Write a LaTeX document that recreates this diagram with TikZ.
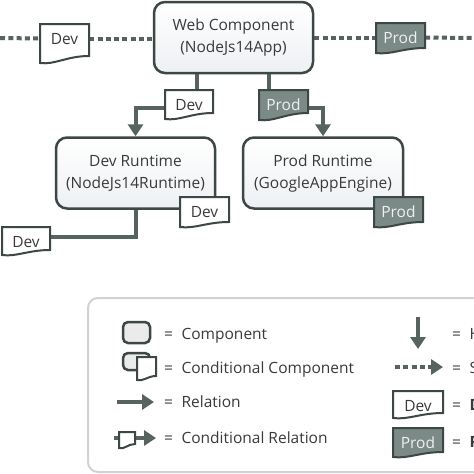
\documentclass[tikz,border=0pt]{standalone}
\usepackage{fontspec}
\setmainfont{Open Sans}
\usetikzlibrary{arrows.meta}
\definecolor{lg}{HTML}{57635F}
\definecolor{bd}{HTML}{3D4745}
\definecolor{pf}{HTML}{7B8A86}
\definecolor{txt}{HTML}{3A3A3A}
\definecolor{bbot}{HTML}{EDF0F3}
\definecolor{lbd}{HTML}{D2D2D2}
\definecolor{pt}{HTML}{EEF1F0}
\definecolor{icf}{HTML}{EBEBEB}
\pgfdeclarelayer{bgw}
\pgfdeclarelayer{lines}
\pgfsetlayers{bgw,lines,main}
\newcommand{\envtag}[8]{%
  \path[#7tag] (#2,#3) -- (#4,#3) -- (#4,#5) .. controls +({-0.45*(#4-#2)},0) and +({0.3*(#4-#2)},2) .. (#2,#6) -- cycle;
  \node[#7txt, minimum width={(#4-#2)*1pt}] (#1) at ({(#2+#4)/2},{#3+14.5}) {#8};
}
\tikzset{
  every node/.style={text=txt},
  comp/.style={draw=bd, line width=2.5pt, rounded corners=11pt, top color=white, bottom color=bbot, minimum width=159pt, minimum height=71pt, align=center, inner sep=0pt, font=\fontsize{15.5}{22}\selectfont},
  rel/.style={draw=lg, line width=4pt},
  reltip/.style={rel, -{Triangle[length=12pt,width=15pt]}},
  dotline/.style={draw=lg, line width=4pt, dash pattern=on 5pt off 3.3pt},
  devtag/.style={fill=white, draw=bd, line width=2pt},
  prodtag/.style={fill=pf, draw=bd, line width=2pt},
  devtxt/.style={inner sep=0pt, minimum height=29pt, text height=11pt, text depth=0pt, font=\fontsize{15.5}{18}\selectfont, text=txt},
  prodtxt/.style={devtxt, text=pt},
  legtext/.style={anchor=base west, inner sep=0pt, font=\fontsize{15.5}{18}\selectfont},
  legbox/.style={draw=lbd, line width=2pt, rounded corners=10pt, fill=white},
  legcomp/.style={draw=bd, line width=2.5pt, rounded corners=5pt, fill=icf, inner sep=0pt},
}
\begin{document}
\begin{tikzpicture}[x=1pt,y=-1pt]
\useasboundingbox (0,0) rectangle (474,474);
\begin{pgfonlayer}{bgw}
\fill[white] (0,0) rectangle (474,474);
\end{pgfonlayer}
% legend frame
\node[legbox, minimum width=432pt, minimum height=174pt] (legend) at (304,385) {};
% components
\node[comp] (web) at (233.5,37.5) {Web Component\\(NodeJs14App)};
\node[comp] (devrt) at (135.5,173) {Dev Runtime\\(NodeJs14Runtime)};
\node[comp, minimum width=160pt] (prodrt) at (323,173) {Prod Runtime\\(GoogleAppEngine)};
% tags
\envtag{tdevt}{40}{24}{89}{56}{63}{dev}{Dev}
\envtag{tprodt}{376}{23}{425}{48}{53}{prod}{Prod}
\envtag{tdevm}{165}{90}{213}{113}{119}{dev}{Dev}
\envtag{tprodm}{259}{90}{308}{113}{120}{prod}{Prod}
\envtag{tdevr}{180}{197}{229}{222}{227}{dev}{Dev}
\envtag{tprodr}{374}{197}{423}{222}{227}{prod}{Prod}
\envtag{tdevb}{2}{227}{50}{250}{255}{dev}{Dev}
% connectors
\begin{pgfonlayer}{lines}
\coordinate (dl) at (0,38);
\coordinate (dr) at (474,38);
\draw[dotline] (dl) -- (tdevt.west);
\draw[dotline] (tdevt.east) -- (tdevt.east -| web.west);
\draw[dotline] (web.east) -- (web.east -| tprodt.west);
\draw[dotline] (tprodt.east) -- (dr);
\draw[rel] ([xshift=8pt]tdevm.north |- web.south) -- ([xshift=8pt]tdevm.north);
\draw[rel] ([xshift=-14.5pt]tprodm.north |- web.south) -- ([xshift=-14.5pt]tprodm.north);
\draw[reltip] ([yshift=-3pt]tdevm.west) -| (devrt.north);
\draw[reltip] ([yshift=-3pt]tprodm.east) -| (prodrt.north);
\draw[rel] (devrt.south) |- ([yshift=4.5pt]tdevb.east);
\end{pgfonlayer}
% legend, left column
\node[legcomp, minimum width=27pt, minimum height=21pt] (lcomp) at (136.5,332.5) {};
\node[legtext] (tcomp) at (164,339) {=\hspace{8.5pt}Component};
\node[legcomp, minimum width=27pt, minimum height=17pt] (lcc) at (136.5,361.5) {};
\envtag{lcctag}{137}{357}{156}{376}{380}{dev}{}
\node[legtext] (tcc) at (164,373) {=\hspace{8.5pt}Conditional Component};
\coordinate (lr1) at (117,402);
\coordinate (lr2) at (154,402);
\draw[reltip] (lr1) -- (lr2);
\node[legtext] (trel) at (164,407) {=\hspace{8.5pt}Relation};
\coordinate (lcr1) at (114,438);
\coordinate (lcr2) at (156,438);
\draw[reltip] (lcr1) -- (lcr2);
\envtag{lcrtag}{119}{432}{135}{444}{448}{dev}{}
\node[legtext] (tcr) at (164,443) {=\hspace{8.5pt}Conditional Relation};
% legend, right column
\coordinate (lh1) at (418,317);
\coordinate (lh2) at (418,349);
\draw[reltip] (lh1) -- (lh2);
\node[legtext] (th) at (452,339) {=\hspace{8.5pt}H};
\coordinate (ls1) at (395,367);
\coordinate (ls2) at (443,367);
\draw[dotline, -{Triangle[length=12pt,width=15pt]}] (ls1) -- (ls2);
\node[legtext] (ts) at (452,373) {=\hspace{8.5pt}S};
\envtag{ldev}{393}{391}{443}{413}{418}{dev}{Dev}
\node[legtext] (td) at (452,410) {=\hspace{8.5pt}\textbf{D}};
\envtag{lprod}{393}{428}{443}{452}{457}{prod}{Prod}
\node[legtext] (tp) at (452,447) {=\hspace{8.5pt}\textbf{P}};
\end{tikzpicture}
\end{document}
